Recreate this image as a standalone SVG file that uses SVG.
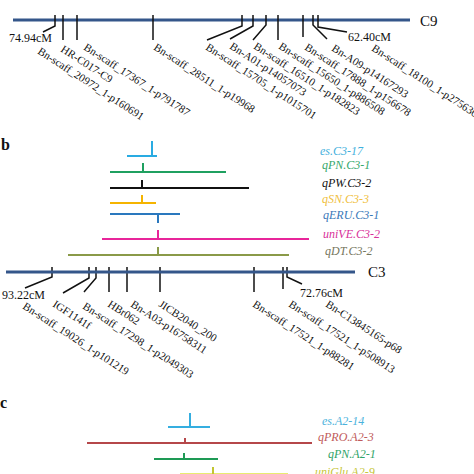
<svg xmlns="http://www.w3.org/2000/svg" width="474" height="474" viewBox="0 0 474 474">
<style>
.chr{stroke:#34568a;stroke-width:3;fill:none}
.tk{stroke:#111;stroke-width:1.5;fill:none}
.ml{font-family:"Liberation Serif","Times New Roman",serif;font-size:11px;fill:#111}
.cm{font-family:"Liberation Serif","Times New Roman",serif;font-size:12px;fill:#111}
.cn{font-family:"Liberation Serif","Times New Roman",serif;font-size:15px;fill:#111}
.pl{font-family:"Liberation Serif","Times New Roman",serif;font-size:16px;font-weight:bold;fill:#111}
.ql{font-family:"Liberation Serif","Times New Roman",serif;font-size:12px;font-style:italic}
.qb{stroke-width:2;fill:none}
</style>
<rect width="474" height="474" fill="#fff"/>

<!-- Panel a: C9 -->
<g id="chrC9">
<line class="chr" x1="13" y1="20" x2="410" y2="20"/>
<text class="cn" x="420" y="26">C9</text>
<text class="cm" x="9" y="42">74.94cM</text>
<text class="cm" x="348" y="41">62.40cM</text>
</g>
<g id="connectors">
<!-- C9 ticks -->
<polyline class="tk" points="55,15 55,26 43,32"/>
<line class="tk" x1="63" y1="15" x2="63" y2="40"/>
<line class="tk" x1="77" y1="15" x2="77" y2="40"/>
<line class="tk" x1="153" y1="15" x2="153" y2="40"/>
<polyline class="tk" points="242,15 242,26 207,40"/>
<polyline class="tk" points="253,15 253,26 230,39"/>
<polyline class="tk" points="266,15 266,25 253,40"/>
<line class="tk" x1="278" y1="15" x2="278" y2="40"/>
<line class="tk" x1="303" y1="15" x2="303" y2="37"/>
<polyline class="tk" points="313,15 313,25 327,39"/>
<polyline class="tk" points="318,15 318,27 347,32"/>
<!-- C3 ticks -->
<polyline class="tk" points="52,267 52,277 25,288"/>
<polyline class="tk" points="89,267 89,278 63,293"/>
<polyline class="tk" points="96,267 96,278 84,292"/>
<line class="tk" x1="109" y1="267" x2="109" y2="292"/>
<line class="tk" x1="127" y1="267" x2="127" y2="292"/>
<line class="tk" x1="160" y1="267" x2="160" y2="292"/>
<line class="tk" x1="254" y1="267" x2="254" y2="292"/>
<line class="tk" x1="283" y1="267" x2="283" y2="289"/>
<polyline class="tk" points="287,267 287,277 302,284"/>
</g>
<g id="markersC9">
<g id="m-HR-C017-C9"><text class="ml" transform="translate(60,51) rotate(33)">HR-C017-C9</text></g>
<g id="m-20972"><text class="ml" transform="translate(37,53) rotate(33)">Bn-scaff_20972_1-p160691</text></g>
<g id="m-17367"><text class="ml" transform="translate(83,49) rotate(33)">Bn-scaff_17367_1-p791787</text></g>
<g id="m-28511"><text class="ml" transform="translate(153,49) rotate(33)">Bn-scaff_28511_1-p19968</text></g>
<g id="m-15705"><text class="ml" transform="translate(205,49) rotate(33)">Bn-scaff_15705_1-p1015701</text></g>
<g id="m-A01"><text class="ml" transform="translate(229,48) rotate(33)">Bn-A01-p14057073</text></g>
<g id="m-16510"><text class="ml" transform="translate(253,48) rotate(33)">Bn-scaff_16510_1-p182823</text></g>
<g id="m-15650"><text class="ml" transform="translate(278,48) rotate(33)">Bn-scaff_15650_1-p886508</text></g>
<g id="m-17888"><text class="ml" transform="translate(304,49) rotate(33)">Bn-scaff_17888_1-p156678</text></g>
<g id="m-A09"><text class="ml" transform="translate(331,50) rotate(33)">Bn-A09-p14167293</text></g>
<g id="m-18100"><text class="ml" transform="translate(371,50) rotate(33)">Bn-scaff_18100_1-p275636</text></g>
</g>

<!-- Panel b -->
<text class="pl" x="1" y="150">b</text>
<g id="q-es-C3-17"><line class="qb" stroke="#29abe2" x1="127" y1="156" x2="157" y2="156"/><line class="qb" stroke="#29abe2" x1="152" y1="141" x2="152" y2="156"/><text class="ql" fill="#3fb0dd" x="320" y="155">es.C3-17</text></g>
<g id="q-qPN-C3-1"><line class="qb" stroke="#1fa060" x1="110" y1="172" x2="226" y2="172"/><line class="qb" stroke="#1fa060" x1="143" y1="163" x2="143" y2="172"/><text class="ql" fill="#35a86c" x="322" y="169">qPN.C3-1</text></g>
<g id="q-qPW-C3-2"><line class="qb" stroke="#111" x1="110" y1="188" x2="249" y2="188"/><line class="qb" stroke="#111" x1="142" y1="180" x2="142" y2="188"/><text class="ql" fill="#111" x="322" y="187">qPW.C3-2</text></g>
<g id="q-qSN-C3-3"><line class="qb" stroke="#f5b400" x1="110" y1="203" x2="156" y2="203"/><line class="qb" stroke="#f5b400" x1="142" y1="195" x2="142" y2="203"/><text class="ql" fill="#f0c040" x="322" y="203">qSN.C3-3</text></g>
<g id="q-qERU-C3-1"><line class="qb" stroke="#2a78be" x1="110" y1="214" x2="180" y2="214"/><line class="qb" stroke="#2a78be" x1="158" y1="214" x2="158" y2="223"/><text class="ql" fill="#3a78b8" x="323" y="219">qERU.C3-1</text></g>
<g id="q-uniVE-C3-2"><line class="qb" stroke="#e8259a" x1="102" y1="239" x2="309" y2="239"/><line class="qb" stroke="#e8259a" x1="158" y1="230" x2="158" y2="239"/><text class="ql" fill="#d8309a" x="323" y="238">uniVE.C3-2</text></g>
<g id="q-qDT-C3-2"><line class="qb" stroke="#8a9a48" x1="68" y1="255" x2="289" y2="255"/><line class="qb" stroke="#8a9a48" x1="158" y1="247" x2="158" y2="255"/><text class="ql" fill="#76765e" x="325" y="255">qDT.C3-2</text></g>

<g id="chrC3">
<line class="chr" x1="6" y1="272" x2="355" y2="272"/>
<text class="cn" x="368" y="277">C3</text>
<text class="cm" x="2" y="299">93.22cM</text>
<text class="cm" x="300" y="297">72.76cM</text>
</g>
<g id="markersC3">
<g id="m-19026"><text class="ml" transform="translate(22,308) rotate(33)">Bn-scaff_19026_1-p101219</text></g>
<g id="m-IGF1141f"><text class="ml" transform="translate(52,306) rotate(33)">IGF1141f</text></g>
<g id="m-17298"><text class="ml" transform="translate(82,308) rotate(33)">Bn-scaff_17298_1-p2049303</text></g>
<g id="m-HBr062"><text class="ml" transform="translate(107,306) rotate(33)">HBr062</text></g>
<g id="m-A03"><text class="ml" transform="translate(130,306) rotate(33)">Bn-A03-p16758311</text></g>
<g id="m-JICB"><text class="ml" transform="translate(158,306) rotate(33)">JICB2040_200</text></g>
<g id="m-17521a"><text class="ml" transform="translate(252,306) rotate(33)">Bn-scaff_17521_1-p88281</text></g>
<g id="m-17521b"><text class="ml" transform="translate(288,306) rotate(33)">Bn-scaff_17521_1-p508913</text></g>
<g id="m-C138"><text class="ml" transform="translate(325,306) rotate(33)">Bn-C13845165-p68</text></g>
</g>

<!-- Panel c -->
<text class="pl" x="0" y="408">c</text>
<g id="q-es-A2-14"><line class="qb" stroke="#35aee0" x1="168" y1="427" x2="210" y2="427"/><line class="qb" stroke="#35aee0" x1="190" y1="413" x2="190" y2="427"/><text class="ql" fill="#4ab2dc" x="322" y="425">es.A2-14</text></g>
<g id="q-qPRO-A2-3"><line class="qb" stroke="#b5474a" x1="87" y1="443" x2="312" y2="443"/><line class="qb" stroke="#b5474a" x1="185" y1="438" x2="185" y2="443"/><text class="ql" fill="#c05a5a" x="318" y="441">qPRO.A2-3</text></g>
<g id="q-qPN-A2-1"><line class="qb" stroke="#1e9a55" x1="154" y1="459" x2="218" y2="459"/><line class="qb" stroke="#1e9a55" x1="184" y1="453" x2="184" y2="459"/><text class="ql" fill="#30a468" x="328" y="458">qPN.A2-1</text></g>
<g id="q-uniGlu-A2-9"><line stroke="#e8ec70" stroke-width="4" x1="180" y1="475" x2="288" y2="475"/><line class="qb" stroke="#c2c530" x1="213" y1="467" x2="213" y2="474"/><text class="ql" fill="#c6c63a" x="315" y="476">uniGlu.A2-9</text></g>
</svg>
